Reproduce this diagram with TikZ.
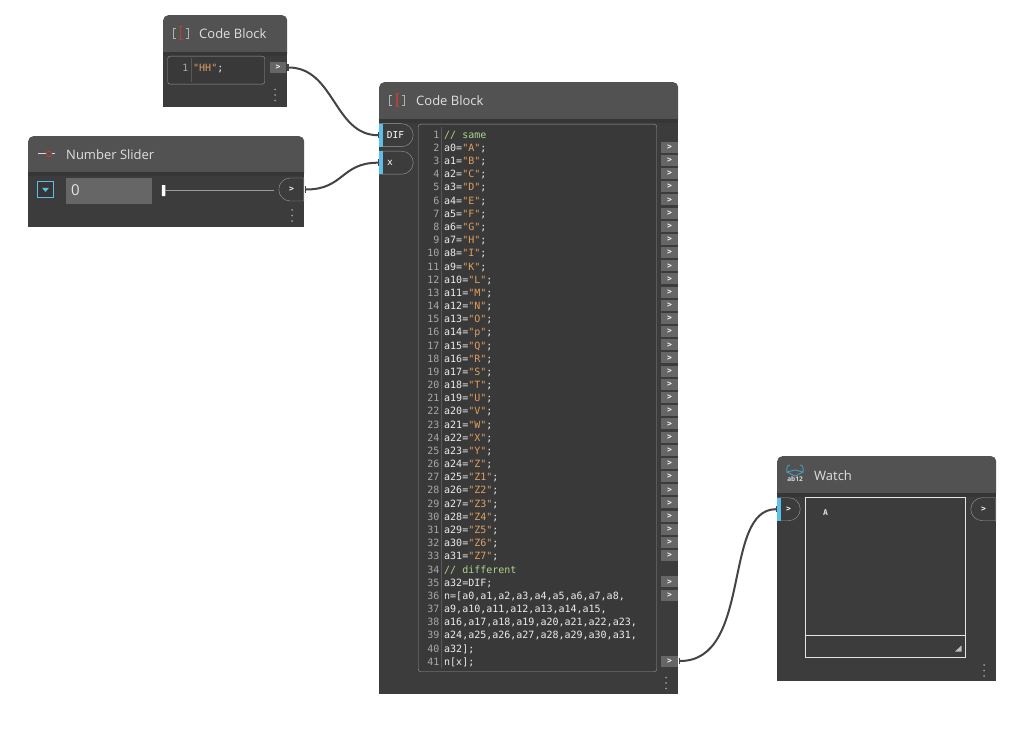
\documentclass[tikz,border=0pt]{standalone}
\usepackage{fontspec}
\setmainfont{Open Sans}
\newfontfamily\codefont{DejaVu Sans Mono}
\usetikzlibrary{positioning, shapes.misc, shapes.geometric, arrows.meta}

\definecolor{bodygray}{HTML}{3C3C3C}
\definecolor{headgray}{HTML}{525252}
\definecolor{stripgray}{HTML}{363636}
\definecolor{boxgray}{HTML}{393939}
\definecolor{edgegray}{HTML}{9A9A9A}
\definecolor{portgray}{HTML}{666666}
\definecolor{wiregray}{HTML}{444444}
\definecolor{sepgray}{HTML}{585858}
\definecolor{inblue}{HTML}{5CBFEA}
\definecolor{iconred}{HTML}{B5403A}
\definecolor{strorange}{HTML}{E0A060}
\definecolor{commentgreen}{HTML}{B0D48A}
\definecolor{codewhite}{HTML}{EDEDED}
\definecolor{numgray}{HTML}{A8A8A8}

\tikzstyle{head} = [rectangle, rounded corners=5, fill=headgray, inner sep=0, anchor=north west]
\tikzstyle{body} = [rectangle, fill=bodygray, inner sep=0, anchor=north west]
\tikzstyle{strip} = [rectangle, fill=stripgray, inner sep=0, minimum height=4, anchor=north west]
\tikzstyle{headtitle} = [text=white!88!black, yshift=-0.5, font=\fontsize{13}{15}\selectfont, inner sep=0, anchor=west]
\tikzstyle{inport} = [rounded rectangle, rounded rectangle left arc=none, draw=edgegray, fill=bodygray, text=white, inner sep=0, minimum height=23, font=\codefont\fontsize{9.5}{11}\selectfont]
\tikzstyle{outport} = [rounded rectangle, rounded rectangle right arc=none, draw=edgegray, fill=bodygray, text=white, inner sep=0, minimum height=23, font=\codefont\bfseries\fontsize{8}{9}\selectfont]
\tikzstyle{flatport} = [rectangle, fill=portgray, text=white, inner sep=0, minimum width=16.5, minimum height=11, font=\codefont\bfseries\fontsize{8}{9}\selectfont]
\tikzstyle{inbar} = [rectangle, fill=inblue, inner sep=0, minimum width=4, minimum height=23, anchor=west]
\tikzstyle{codebox} = [rectangle, rounded corners=2.5, draw=edgegray, fill=boxgray, inner sep=0, anchor=north west]
\tikzstyle{codeline} = [text=codewhite, inner sep=0, anchor=west, text height=10.5, text depth=2, font=\codefont\fontsize{10}{12}\selectfont]
\tikzstyle{codenum} = [text=numgray, inner sep=0, anchor=east, text height=10.5, text depth=2, font=\codefont\fontsize{10}{12}\selectfont]
\tikzstyle{wire} = [line width=2, draw=wiregray, {Bar[width=6.5,line width=1.4]}-{Bar[width=6.5,line width=1.4]}]

\tikzset{
	codeicon/.pic={
		\draw [white!70!black, line width=0.9] (-5,-5) -- (-7.5,-5) -- (-7.5,5) -- (-5,5);
		\draw [white!70!black, line width=0.9] (5,-5) -- (7.5,-5) -- (7.5,5) -- (5,5);
		\draw [iconred, line width=1.2] (0,-6.5) -- (0,6.5) (-2,-6.5) -- (2,-6.5) (-2,6.5) -- (2,6.5);
	},
	gripdots/.pic={
		\foreach \d in {-5.5,0,5.5}
			\fill [edgegray] (0,\d) circle (1);
	}
}

\newcommand{\str}[1]{\textcolor{strorange}{"#1"}}

\begin{document}
\begin{tikzpicture}[x=1pt,y=-1pt]
	\useasboundingbox [fill=white] (0,0) rectangle (1024,730);

	\node (smallhead) [head, minimum width=124, minimum height=44] at (163,15) {};
	\node (smallbody) [body, minimum width=124, minimum height=52] at (163,55) {};
	\node (smallstrip) [strip, minimum width=124] at (163,52) {};
	\node (smalltitle) [headtitle] at (199,33) {Code Block};
	\pic at (180.5,33) {codeicon};
	\node (smallbox) [codebox, minimum width=97, minimum height=28] at (167.5,56) {};
	\draw [sepgray, line width=0.6] (191.5,58) -- (191.5,82);
	\node (smallnum) [codenum] at (188.5,67) {1};
	\node (smallcode) [codeline] at (193,67) {\str{HH};};
	\node (smallout) [flatport] at (278,67.5) {>};
	\pic at (275,95) {gripdots};

	\node (sliderhead) [head, minimum width=276, minimum height=42] at (28,136) {};
	\node (sliderbody) [body, minimum width=276, minimum height=52] at (28,175) {};
	\node (sliderstrip) [strip, minimum width=276] at (28,172) {};
	\node (slidertitle) [headtitle] at (66,154) {Number Slider};
	\draw [white!85!black, line width=1] (38,154) -- (55,154);
	\draw [iconred, fill=headgray, line width=0.9] (49,154) circle (2.7);
	\node (sliderdrop) [rectangle, draw=inblue, line width=1, fill=stripgray, minimum width=16, minimum height=16, inner sep=0] at (45.5,189.5) {};
	\node (droptip) [isosceles triangle, shape border rotate=-90, isosceles triangle apex angle=80, fill=inblue, inner sep=0, minimum size=4] at (sliderdrop) {};
	\node (sliderval) [rectangle, fill=portgray, minimum width=86, minimum height=26.5, inner sep=0, anchor=north west] at (66,177.5) {};
	\node (slidertext) [text=white!90!black, inner sep=0, anchor=west, font=\fontsize{15}{17}\selectfont] at (71,190.5) {0};
	\node (sliderthumb) [rectangle, fill=white, rounded corners=0.5, minimum width=3.5, minimum height=11, inner sep=0] at (163.5,190.5) {};
	\node (sliderout) [outport, minimum width=25, anchor=east] at (304,189.5) {>};
	\draw [edgegray, line width=0.8] (sliderthumb.east) -- ([xshift=-5]sliderout.west |- sliderthumb.east);
	\pic at (292,215.5) {gripdots};

	\node (mainhead) [head, minimum width=299, minimum height=42] at (379,82) {};
	\node (mainbody) [body, minimum width=299, minimum height=573] at (379,121) {};
	\node (mainstrip) [strip, minimum width=299] at (379,118.5) {};
	\node (maintitle) [headtitle] at (416,100) {Code Block};
	\pic at (397,100) {codeicon};
	\node (dif) [inport, minimum width=34, anchor=north west] at (379,123.5) {\makebox[18pt][l]{DIF}};
	\node (difbar) [inbar] at (dif.west) {};
	\node (xin) [inport, minimum width=34, anchor=north west] at (379,151) {\makebox[18pt][l]{x}};
	\node (xbar) [inbar] at (xin.west) {};
	\node (mainbox) [codebox, minimum width=238.5, minimum height=547.5] at (418,124) {};
	\draw [sepgray, line width=0.6] (441.5,127) -- (441.5,668);

	\foreach \n in {1,...,41}
		\node (num\n) [codenum] at (439.5,{134+13.175*(\n-1)}) {\n};
	\foreach \letter [count=\i from 0, evaluate=\i as \n using int(\i+2)] in {A,B,C,D,E,F,G,H,I,K,L,M,N,O,p,Q,R,S,T,U,V,W,X,Y,Z,Z1,Z2,Z3,Z4,Z5,Z6,Z7}
		\node (line\n) [codeline] at (444,{134+13.175*(\n-1)}) {a\i=\str{\letter};};
	\foreach \n/\txt in {35/{a32=DIF;},36/{n=[a0,a1,a2,a3,a4,a5,a6,a7,a8,},37/{a9,a10,a11,a12,a13,a14,a15,},38/{a16,a17,a18,a19,a20,a21,a22,a23,},39/{a24,a25,a26,a27,a28,a29,a30,a31,},40/{a32];},41/{n[x];}}
		\node (line\n) [codeline] at (444,{134+13.175*(\n-1)}) {\txt};
	\node (line1) [codeline, text=commentgreen] at (444,134) {// same};
	\node (line34) [codeline, text=commentgreen] at (444,{134+13.175*33}) {// different};
	\foreach \n in {2,...,33,35,36,41}
		\node (out\n) [flatport] at (669.5,{134+13.175*(\n-1)}) {>};
	\pic at (666,683) {gripdots};

	\node (watchhead) [head, minimum width=219, minimum height=42] at (777,456) {};
	\node (watchbody) [body, minimum width=219, minimum height=186] at (777,495) {};
	\node (watchstrip) [strip, minimum width=219] at (777,492.5) {};
	\node (watchtitle) [headtitle] at (814,475) {Watch};
	\draw [inblue!80!black, line width=0.9] (787,472) .. controls (786,464) and (790,465) .. (790,465) (803,472) .. controls (804,464) and (800,465) .. (800,465);
	\draw [inblue!80!black, line width=0.9] (787,472) -- (795,476) -- (803,472) -- (795,470) -- cycle;
	\node (watchicon) [text=white!85!black, inner sep=0, font=\fontsize{6.5}{7}\selectfont\bfseries] at (795,479.5) {ab12};
	\node (watchin) [inport, minimum width=23, anchor=north west, font=\codefont\bfseries\fontsize{8}{9}\selectfont] at (777,497.5) {>};
	\node (watchbar) [inbar] at (watchin.west) {};
	\node (watchout) [outport, minimum width=25, anchor=north east] at (996,497.5) {>};
	\node (watchbox) [rectangle, draw=white!90!black, line width=0.8, outer sep=0, fill=bodygray, minimum width=160, minimum height=160, inner sep=0] at (885.7,577.8) {};
	\draw [white!90!black, line width=0.8] (watchbox.west |- 0,635) -- (watchbox.east |- 0,635);
	\node (watchval) [text=white!90!black, inner sep=0, font=\codefont\bfseries\fontsize{8}{9}\selectfont] at (825.5,513) {A};
	\fill [white!75!black] (961.5,645.5) -- (961.5,651.5) -- (955,651.5) -- cycle;
	\pic at (984,670.5) {gripdots};

	\draw [wire, shorten <=1] (smallout.east) .. controls +(48,0) and +(-45,0) .. (dif.west);
	\draw [wire, shorten <=1] (sliderout.east) .. controls +(40,0) and +(-38,0) .. (xin.west);
	\draw [wire, shorten <=1] (out41.east) .. controls +(75,0) and +(-55,0) .. (watchin.west);
\end{tikzpicture}
\end{document}
